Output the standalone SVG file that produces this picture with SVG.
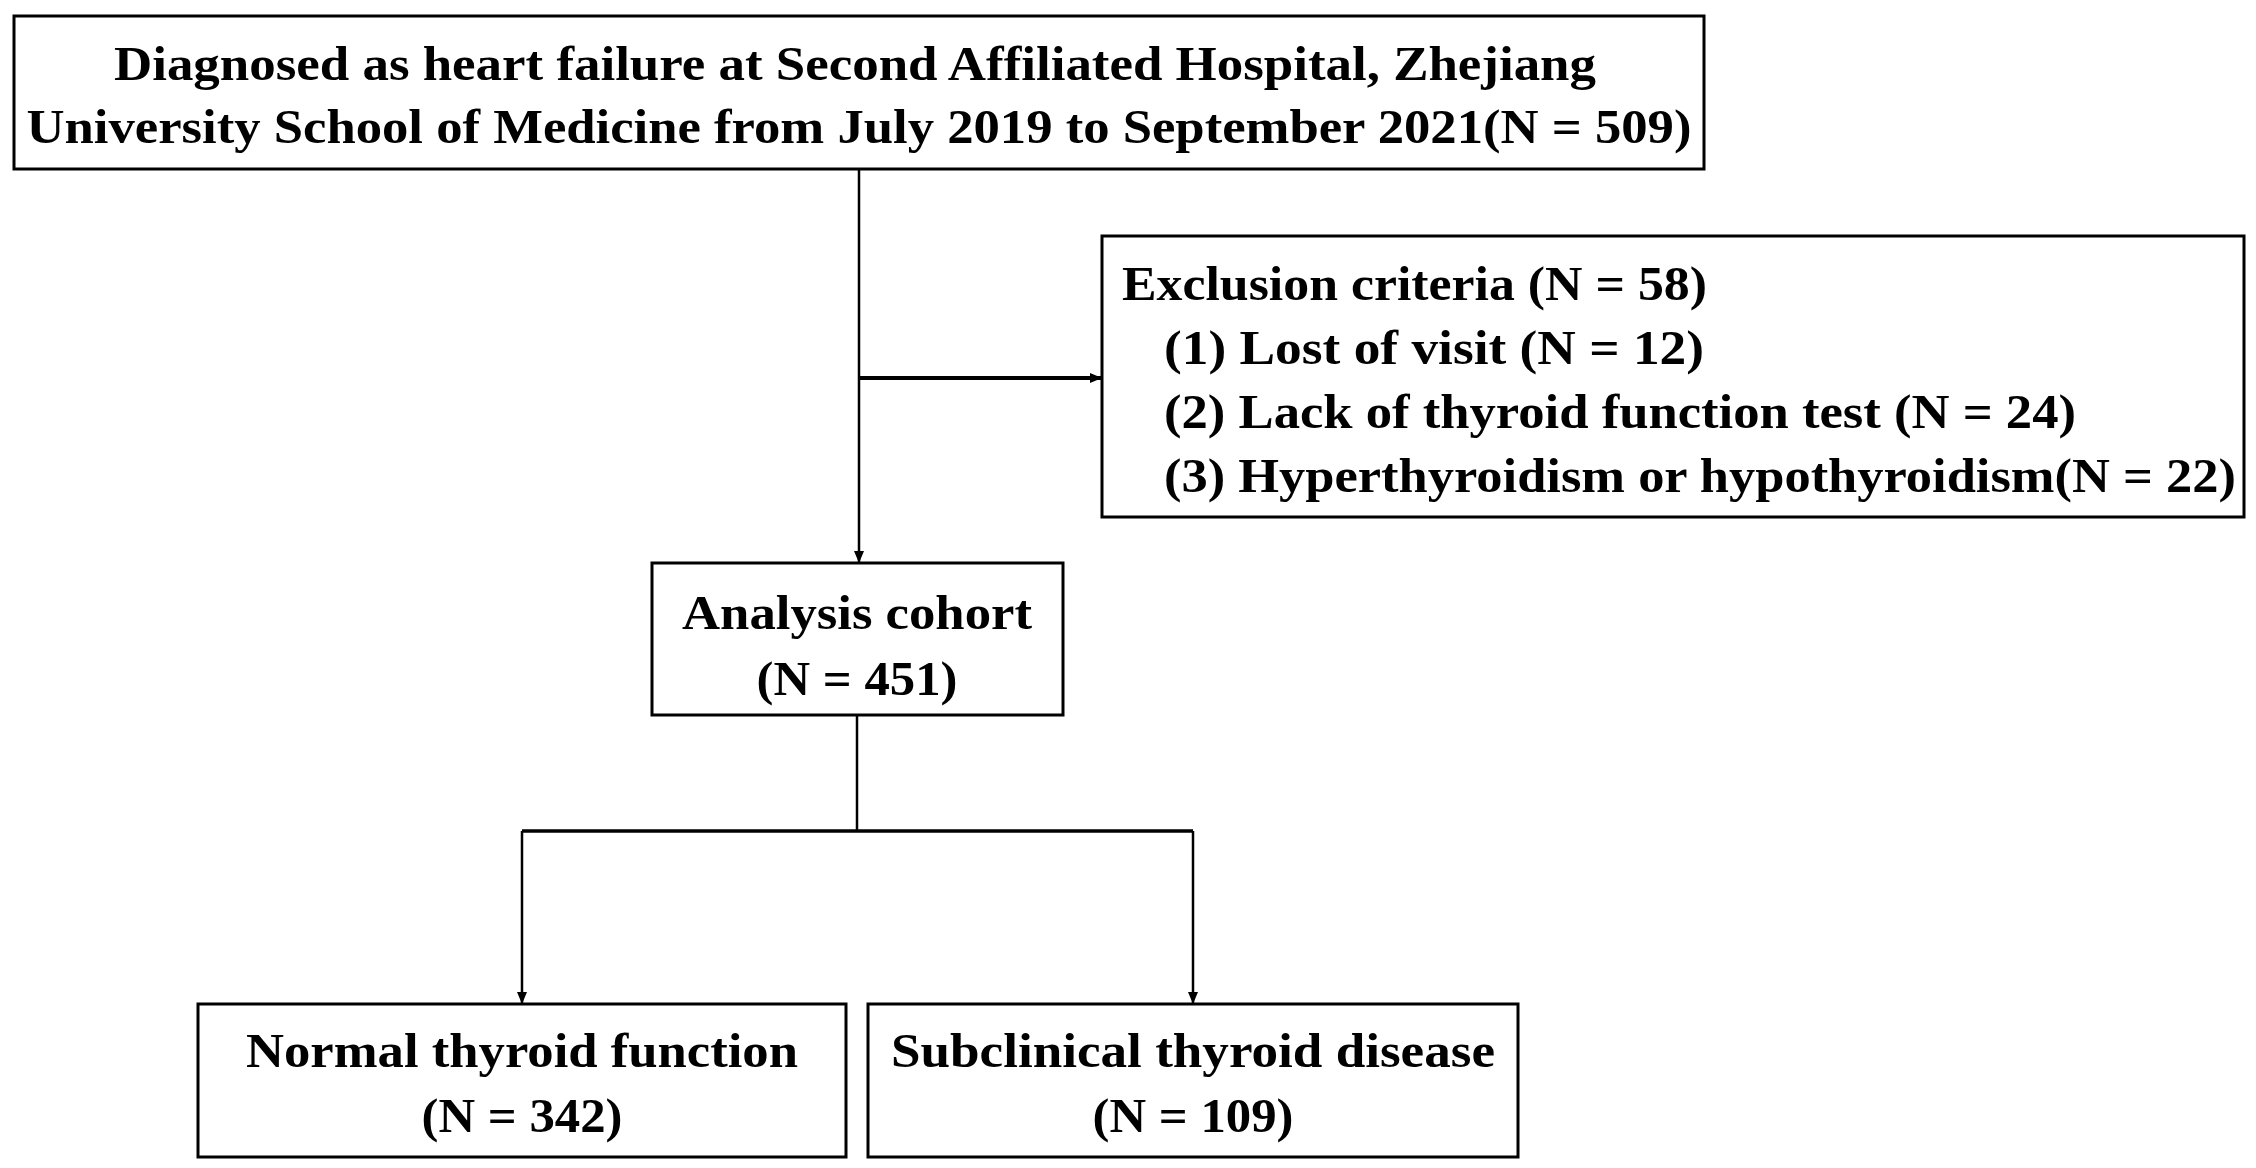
<svg xmlns="http://www.w3.org/2000/svg" width="2256" height="1168" viewBox="0 0 2256 1168">
<style>
rect{fill:#fff;stroke:#000;stroke-width:3}
text{font-family:"Liberation Serif","Times New Roman",serif;font-weight:bold;font-size:48px;fill:#000}
.c{text-anchor:middle}
.l{fill:none;stroke:#000;stroke-width:2.5}
</style>
<defs><marker id="a" markerWidth="12" markerHeight="12" refX="11" refY="6" orient="auto" markerUnits="userSpaceOnUse"><path d="M0,1 L12,6 L0,11Z" fill="#000"/></marker></defs>
<rect width="2256" height="1168" style="stroke:none"/>
<g id="connectors">
<path class="l" d="M859,169 V562" marker-end="url(#a)"/>
<path class="l" d="M859,378 H1101" style="stroke-width:4" marker-end="url(#a)"/>
<path class="l" d="M857,715 V831"/>
<path class="l" d="M522,831 H1193" style="stroke-width:3.5"/>
<path class="l" d="M522,831 V1003" marker-end="url(#a)"/>
<path class="l" d="M1193,831 V1003" marker-end="url(#a)"/>
</g>
<g id="top"><rect x="14" y="16" width="1690" height="153"/>
<text class="c" x="855" y="80" textLength="1482" lengthAdjust="spacingAndGlyphs">Diagnosed as heart failure at Second Affiliated Hospital, Zhejiang</text>
<text class="c" x="859" y="143" textLength="1665" lengthAdjust="spacingAndGlyphs">University School of Medicine from July 2019 to September 2021(N = 509)</text></g>
<g id="excl"><rect x="1102" y="236" width="1142" height="281"/>
<text x="1122" y="300" textLength="585" lengthAdjust="spacingAndGlyphs">Exclusion criteria (N = 58)</text>
<text x="1164" y="364" textLength="540" lengthAdjust="spacingAndGlyphs">(1) Lost of visit  (N = 12)</text>
<text x="1164" y="428" textLength="912" lengthAdjust="spacingAndGlyphs">(2) Lack of thyroid function test (N = 24)</text>
<text x="1164" y="492" textLength="1072" lengthAdjust="spacingAndGlyphs">(3) Hyperthyroidism or hypothyroidism(N = 22)</text></g>
<g id="cohort"><rect x="652" y="563" width="411" height="152"/>
<text class="c" x="857" y="629" textLength="350" lengthAdjust="spacingAndGlyphs">Analysis cohort</text>
<text class="c" x="857" y="695" textLength="201" lengthAdjust="spacingAndGlyphs">(N = 451)</text></g>
<g id="normal"><rect x="198" y="1004" width="648" height="153"/>
<text class="c" x="522" y="1067" textLength="552" lengthAdjust="spacingAndGlyphs">Normal thyroid function</text>
<text class="c" x="522" y="1132" textLength="201" lengthAdjust="spacingAndGlyphs">(N = 342)</text></g>
<g id="sub"><rect x="868" y="1004" width="650" height="153"/>
<text class="c" x="1193" y="1067" textLength="604" lengthAdjust="spacingAndGlyphs">Subclinical thyroid disease</text>
<text class="c" x="1193" y="1132" textLength="201" lengthAdjust="spacingAndGlyphs">(N = 109)</text></g>
</svg>
